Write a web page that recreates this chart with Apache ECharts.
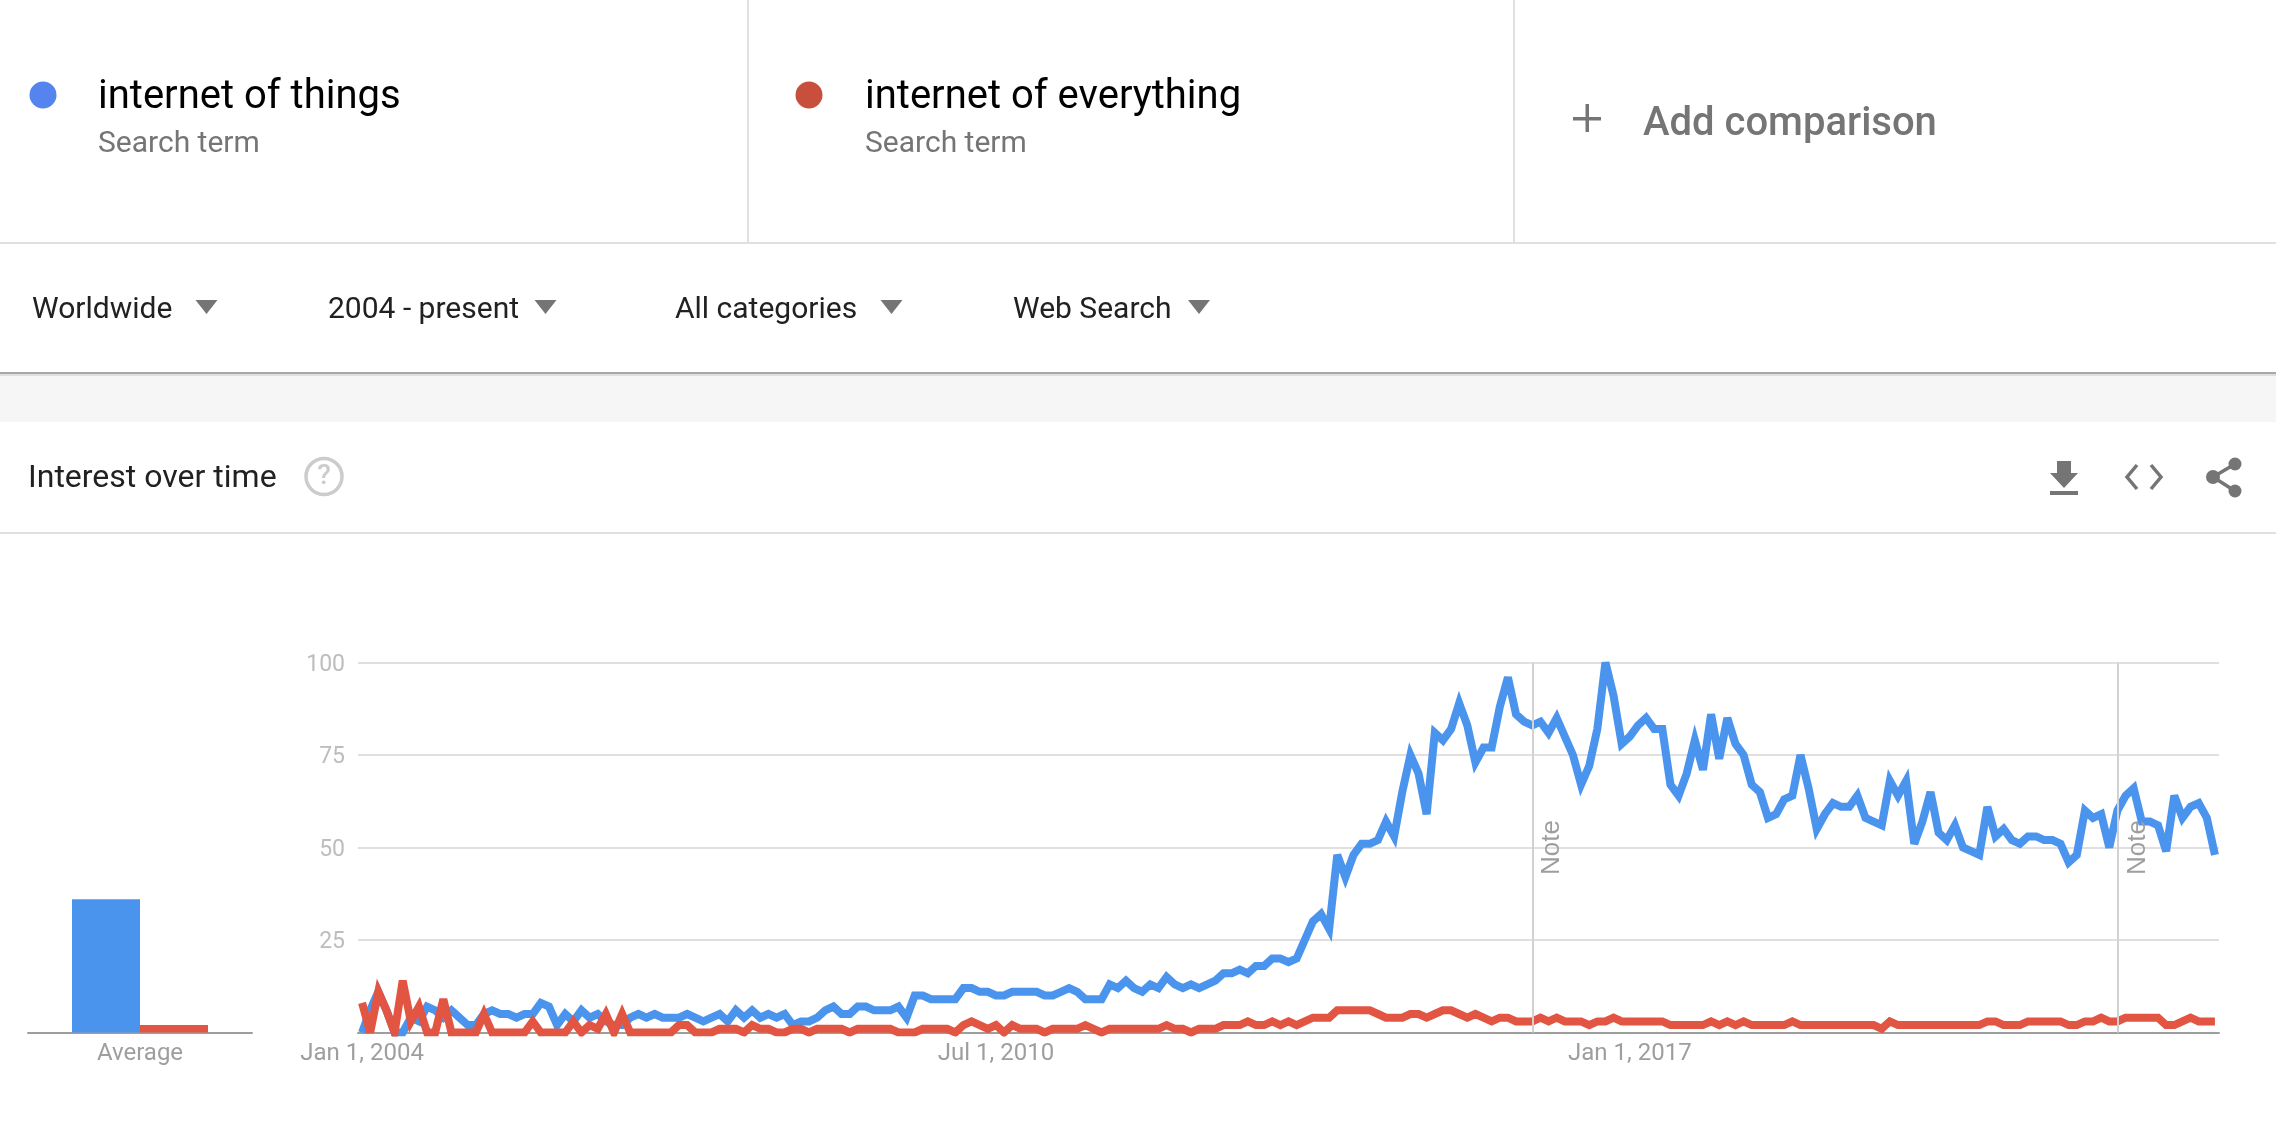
<!DOCTYPE html>
<html>
<head>
<meta charset="utf-8">
<title>Interest over time</title>
<script src="https://cdn.jsdelivr.net/npm/echarts@6/dist/echarts.min.js"></script>
<style>
  html, body { margin: 0; padding: 0; background: #fff; }
  #chart { width: 2276px; height: 1148px; }
</style>
</head>
<body>
<div id="chart"></div>
<script>
const startYear = 2004;
const monthNames = ['Jan', 'Feb', 'Mar', 'Apr', 'May', 'Jun', 'Jul', 'Aug', 'Sep', 'Oct', 'Nov', 'Dec'];
const yTicks = [0, 25, 50, 75, 100];
const labelledMonths = [0, 78, 156];
const noteMonths = [144, 216];

const termNames = ['internet of things', 'internet of everything'];
const averages = [36, 2];

const thingsValues = [
  0, 6, 11, 6, 0, 0, 4, 3, 7, 6,
  4, 6, 4, 2, 2, 5, 6, 5, 5, 4,
  5, 5, 8, 7, 2, 5, 3, 6, 4, 5,
  3, 2, 2, 4, 5, 4, 5, 4, 4, 4,
  5, 4, 3, 4, 5, 3, 6, 4, 6, 4,
  5, 4, 5, 2, 3, 3, 4, 6, 7, 5,
  5, 7, 7, 6, 6, 6, 7, 4, 10, 10,
  9, 9, 9, 9, 12, 12, 11, 11, 10, 10,
  11, 11, 11, 11, 10, 10, 11, 12, 11, 9,
  9, 9, 13, 12, 14, 12, 11, 13, 12, 15,
  13, 12, 13, 12, 13, 14, 16, 16, 17, 16,
  18, 18, 20, 20, 19, 20, 25, 30, 32, 28,
  48, 42, 48, 51, 51, 52, 57, 53, 65, 75,
  70, 59, 81, 79, 82, 89, 83, 73, 77, 77,
  88, 96, 86, 84, 83, 84, 81, 85, 80, 75,
  67, 72, 82, 100, 91, 78, 80, 83, 85, 82,
  82, 67, 64, 70, 79, 71, 86, 74, 85, 78,
  75, 67, 65, 58, 59, 63, 64, 75, 66, 55,
  59, 62, 61, 61, 64, 58, 57, 56, 68, 64,
  68, 51, 57, 65, 54, 52, 56, 50, 49, 48,
  61, 53, 55, 52, 51, 53, 53, 52, 52, 51,
  46, 48, 60, 58, 59, 50, 60, 64, 66, 57,
  57, 56, 49, 64, 58, 61, 62, 58, 48
];

const everythingValues = [
  8, 0, 11, 6, 0, 14, 3, 7, 0, 0,
  9, 0, 0, 0, 0, 5, 0, 0, 0, 0,
  0, 3, 0, 0, 0, 0, 3, 0, 2, 1,
  5, 0, 5, 0, 0, 0, 0, 0, 0, 2,
  2, 0, 0, 0, 1, 1, 1, 0, 2, 1,
  1, 0, 0, 1, 1, 0, 1, 1, 1, 1,
  0, 1, 1, 1, 1, 1, 0, 0, 0, 1,
  1, 1, 1, 0, 2, 3, 2, 1, 2, 0,
  2, 1, 1, 1, 0, 1, 1, 1, 1, 2,
  1, 0, 1, 1, 1, 1, 1, 1, 1, 2,
  1, 1, 0, 1, 1, 1, 2, 2, 2, 3,
  2, 2, 3, 2, 3, 2, 3, 4, 4, 4,
  6, 6, 6, 6, 6, 5, 4, 4, 4, 5,
  5, 4, 5, 6, 6, 5, 4, 5, 4, 3,
  4, 4, 3, 3, 3, 4, 3, 4, 3, 3,
  3, 2, 3, 3, 4, 3, 3, 3, 3, 3,
  3, 2, 2, 2, 2, 2, 3, 2, 3, 2,
  3, 2, 2, 2, 2, 2, 3, 2, 2, 2,
  2, 2, 2, 2, 2, 2, 2, 1, 3, 2,
  2, 2, 2, 2, 2, 2, 2, 2, 2, 2,
  3, 3, 2, 2, 2, 3, 3, 3, 3, 3,
  2, 2, 3, 3, 4, 3, 3, 4, 4, 4,
  4, 4, 2, 2, 3, 4, 3, 3, 3
];

// one category per month, "Jan 1, 2004" style
const months = thingsValues.map((v, i) =>
  monthNames[i % 12] + ' 1, ' + (startYear + Math.floor(i / 12)));

const font = 'Roboto';
const blue = '#4a94ee';
const red = '#e25542';

function label(text, x, y, size, color, weight) {
  return {
    type: 'text', x: x, y: y,
    style: { text: text, fill: color, font: (weight || 400) + ' ' + size + 'px ' + font, textVerticalAlign: 'bottom' }
  };
}
function rect(x, y, w, h, color) {
  return { type: 'rect', shape: { x: x, y: y, width: w, height: h }, style: { fill: color } };
}
function dot(x, y, r, color) {
  return { type: 'circle', shape: { cx: x, cy: y, r: r }, style: { fill: color } };
}
function poly(points, color) {
  return { type: 'polygon', shape: { points: points }, style: { fill: color } };
}
function stroke(points, color, w) {
  return { type: 'polyline', shape: { points: points }, style: { stroke: color, lineWidth: w, fill: 'none' } };
}
function caret(cx) {
  return poly([[cx - 11, 300], [cx + 11, 300], [cx, 314]], '#757575');
}

// page furniture around the chart
const furniture = [
  rect(0, 242, 2276, 2, '#e0e0e0'),
  rect(747, 0, 2, 242, '#e0e0e0'),
  rect(1513, 0, 2, 242, '#e0e0e0'),
  dot(43, 95, 13.5, '#5584ee'),
  label(termNames[0], 98, 118, 40, '#000'),
  label('Search term', 98, 159, 30, '#757575'),
  dot(809, 95, 13.5, '#c94f3d'),
  label(termNames[1], 865, 118, 40, '#000'),
  label('Search term', 865, 159, 30, '#757575'),
  rect(1573, 117, 28, 3.5, '#757575'),
  rect(1585.5, 104, 3.5, 28, '#757575'),
  label('Add comparison', 1643, 145, 40, '#757575', 500),

  label('Worldwide', 32, 325, 30, '#212121'),
  caret(206.5),
  label('2004 - present', 328, 325, 30, '#212121'),
  caret(545.5),
  label('All categories', 675, 325, 30, '#212121'),
  caret(891.5),
  label('Web Search', 1013, 325, 30, '#212121'),
  caret(1199),

  rect(0, 372, 2276, 2, '#a8a8a8'),
  rect(0, 374, 2276, 2, '#dedede'),
  rect(0, 376, 2276, 46, '#f6f6f6'),

  label('Interest over time', 28, 495, 32, '#212121'),
  { type: 'circle', shape: { cx: 324, cy: 476.5, r: 18 }, style: { fill: 'none', stroke: '#cccccc', lineWidth: 3.5 } },
  { type: 'text', x: 324, y: 477, style: { text: '?', fill: '#cccccc', font: '500 28px ' + font, textAlign: 'center', textVerticalAlign: 'middle' } },
  rect(2057, 461, 14, 13, '#757575'),
  poly([[2050, 473], [2078, 473], [2064, 488]], '#757575'),
  rect(2050, 491, 28, 4, '#757575'),
  stroke([[2137, 465], [2127, 477], [2137, 489]], '#757575', 3.5),
  stroke([[2151, 465], [2161, 477], [2151, 489]], '#757575', 3.5),
  stroke([[2235, 464], [2213, 477], [2235, 491]], '#757575', 3.5),
  dot(2235, 464, 6.5, '#757575'),
  dot(2213, 477, 7, '#757575'),
  dot(2235, 491, 6.5, '#757575'),

  rect(0, 532, 2276, 2, '#e0e0e0')
];

const option = {
  animation: false,
  backgroundColor: '#fff',
  textStyle: { fontFamily: font },
  graphic: furniture,
  grid: [
    { left: 358, right: 57, top: 662.5, bottom: 115.5 },
    { left: 28, width: 224, top: 662.5, bottom: 115.5 }
  ],
  xAxis: [
    {
      type: 'category',
      gridIndex: 0,
      data: months,
      boundaryGap: true,
      axisLine: { lineStyle: { color: '#9e9e9e', width: 2 } },
      axisTick: { show: false },
      splitLine: { show: false },
      axisLabel: {
        interval: (i) => labelledMonths.includes(i),
        color: '#9e9e9e', fontSize: 24, fontFamily: font, margin: 9, hideOverlap: false
      }
    },
    {
      type: 'category',
      gridIndex: 1,
      data: ['Average'],
      axisLine: { lineStyle: { color: '#9e9e9e', width: 2 } },
      axisTick: { show: false },
      axisLabel: { color: '#9e9e9e', fontSize: 24, fontFamily: font, margin: 9 }
    }
  ],
  yAxis: [
    {
      type: 'value',
      gridIndex: 0,
      min: yTicks[0],
      max: yTicks[yTicks.length - 1],
      interval: 25,
      axisLine: { show: false },
      axisTick: { show: false },
      splitLine: { lineStyle: { color: '#e0e0e0', width: 2 } },
      axisLabel: {
        color: '#bdbdbd', fontSize: 23, fontFamily: font, margin: 13,
        formatter: (v) => (v === 0 ? '' : '{t|' + v + '}'),
        rich: { t: { color: '#bdbdbd', fontSize: 23, fontFamily: font, padding: [5, 0, 0, 0] } }
      }
    },
    {
      type: 'value',
      gridIndex: 1,
      min: 0,
      max: 100,
      show: false
    }
  ],
  series: [
    {
      name: termNames[0],
      type: 'line',
      data: thingsValues,
      showSymbol: false,
      smooth: false,
      clip: true,
      lineStyle: { color: blue, width: 8, join: 'miter', miterLimit: 4, cap: 'butt' },
      z: 3
    },
    {
      name: termNames[1],
      type: 'line',
      data: everythingValues,
      showSymbol: false,
      smooth: false,
      clip: true,
      lineStyle: { color: red, width: 8, join: 'miter', miterLimit: 4, cap: 'butt' },
      z: 4,
      markLine: {
        silent: true,
        symbol: 'none',
        z: 5,
        lineStyle: { color: '#d2d2d2', width: 2, type: 'solid' },
        label: {
          show: true,
          formatter: 'Note',
          position: 'middle',
          rotate: 90,
          distance: 0,
          offset: [0, 33],
          color: '#9e9e9e',
          fontSize: 26,
          fontFamily: 'Liberation Sans'
        },
        data: noteMonths.map((m) => ({ xAxis: m }))
      }
    },
    {
      name: termNames[0],
      type: 'bar',
      xAxisIndex: 1,
      yAxisIndex: 1,
      barWidth: 68,
      barGap: 0,
      data: [averages[0]],
      itemStyle: { color: blue }
    },
    {
      name: termNames[1],
      type: 'bar',
      xAxisIndex: 1,
      yAxisIndex: 1,
      barWidth: 68,
      barGap: 0,
      data: [averages[1]],
      itemStyle: { color: red }
    }
  ]
};

const chart = echarts.init(document.getElementById('chart'));
chart.setOption(option);
</script>
</body>
</html>
